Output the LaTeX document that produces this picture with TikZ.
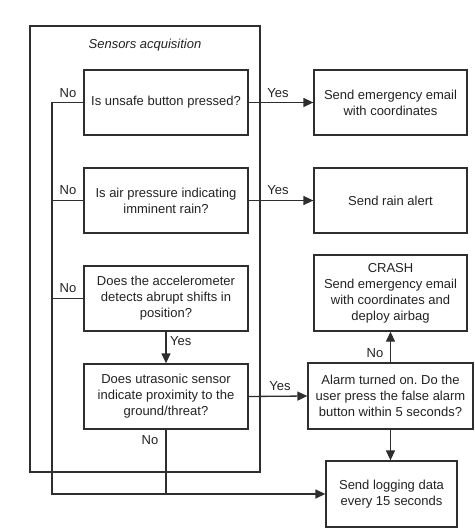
\documentclass[tikz,border=0pt]{standalone}
\usepackage{fontspec}
\setmainfont{Liberation Sans}
\usetikzlibrary{arrows.meta}
\frenchspacing
\definecolor{ln}{HTML}{2E2E2E}
\definecolor{tx}{HTML}{222222}
\tikzset{
  box/.style={draw=ln, line width=1.3pt, rectangle, inner sep=0pt, align=center,
    text=tx, font=\fontsize{13}{16}\selectfont},
  lbl/.style={text=tx, font=\fontsize{13}{16}\selectfont, inner sep=0pt},
  con/.style={draw=ln, line width=1.3pt},
  arr/.style={con, -{Triangle[length=10pt,width=9pt]}}
}
\begin{document}
\begin{tikzpicture}[x=1pt,y=-1pt]
\useasboundingbox (0,0) rectangle (474,530);
% container
\node[draw=ln, line width=1.3pt, minimum width=230pt, minimum height=446pt, inner sep=0pt] (group) at (145,249) {};
\node[lbl, font=\fontsize{13}{16}\selectfont\itshape] (title) at (145,45) {Sensors acquisition};
% decision boxes
\node[box, minimum width=164pt, minimum height=65pt] (b1) at (166,102.5) {Is unsafe button pressed?};
\node[box, minimum width=164pt, minimum height=65pt] (b2) at (166,200.5) {Is air pressure indicating\\imminent rain?};
\node[box, minimum width=164pt, minimum height=65pt] (b3) at (166,298.5) {Does the accelerometer\\detects abrupt shifts in\\position?};
\node[box, minimum width=164pt, minimum height=65pt] (b4) at (166,396.5) {Does utrasonic sensor\\indicate proximity to the\\ground/threat?};
% action boxes
\node[box, minimum width=153pt, minimum height=65pt] (r1) at (390.5,102.5) {Send emergency email\\with coordinates};
\node[box, minimum width=153pt, minimum height=65pt] (r2) at (390.5,200.5) {Send rain alert};
\node[box, minimum width=153pt, minimum height=76pt] (crash) at (390.5,293) {CRASH\\Send emergency email\\with coordinates and\\deploy airbag};
\node[box, minimum width=165pt, minimum height=66pt] (alarm) at (390.5,396) {Alarm turned on. Do the\\user press the false alarm\\button within 5 seconds?};
\node[box, minimum width=131pt, minimum height=66pt] (log) at (391.5,494) {Send logging data\\every 15 seconds};
% rail coordinate
\coordinate (rail) at (52,0);
% connectors
\draw[arr] (b1.east) -- (r1.west);
\draw[arr] (b2.east) -- (r2.west);
\draw[arr] (b3.south) -- (b4.north);
\draw[arr] (b4.east) -- (alarm.west);
\draw[arr] (alarm.north) -- (alarm.north |- crash.south);
\draw[arr] (alarm.south) -- (alarm.south |- log.north);
\draw[arr] (b1.west) -- (b1.west -| rail) |- (log.west);
\draw[con] (b2.west) -- (b2.west -| rail);
\draw[con] (b3.west) -- (b3.west -| rail);
\draw[con] (b4.south) -- (b4.south |- log.west);
% labels
\node[lbl] (n1) at (68,93) {No};
\node[lbl] (n2) at (68,190) {No};
\node[lbl] (n3) at (68,288) {No};
\node[lbl] (y1) at (278,93) {Yes};
\node[lbl] (y2) at (278,190) {Yes};
\node[lbl] (y3) at (280,386) {Yes};
\node[lbl, anchor=west] (y4) at (170,341) {Yes};
\node[lbl] (n4) at (150,440) {No};
\node[lbl] (n5) at (375,353) {No};
\end{tikzpicture}
\end{document}
